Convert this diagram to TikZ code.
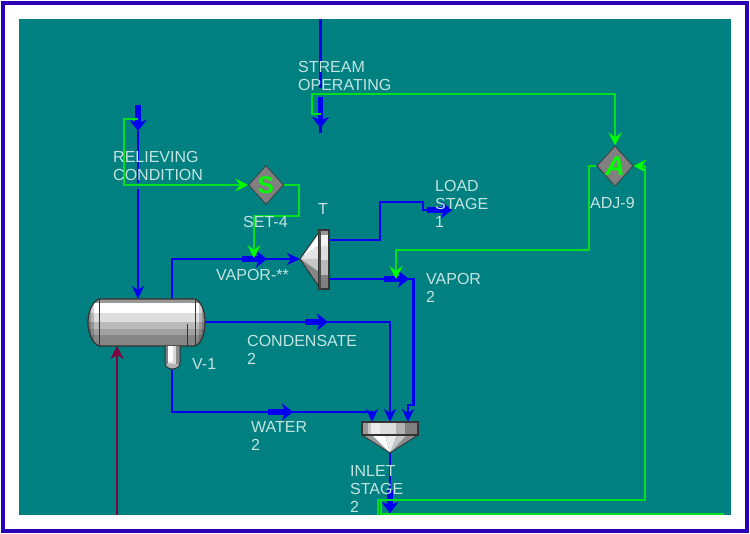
\documentclass[tikz,border=0pt]{standalone}
\usepackage{fontspec}
\setmainfont{Liberation Sans}
\usetikzlibrary{arrows.meta,shapes.geometric}
\definecolor{tealbg}{HTML}{008080}
\definecolor{framec}{HTML}{2B00B5}
\definecolor{streamb}{HTML}{0000F0}
\definecolor{sigg}{HTML}{00E020}
\definecolor{sigtip}{HTML}{00FF00}
\definecolor{redfeed}{HTML}{800040}
\definecolor{labelc}{HTML}{C4E4E2}
\definecolor{dgray}{HTML}{808080}
\tikzset{
 stream/.style={draw=streamb,line width=2.7pt},
 streamtip/.style={stream,-{Stealth[length=13pt,width=12pt,inset=4pt]}},
 flowmark/.style={draw=streamb,line width=5.5pt,-{Stealth[length=11pt,width=17pt,inset=3pt]}},
 signal/.style={draw=sigg,line width=1.7pt},
 signaltip/.style={signal,-{Stealth[length=13pt,width=13pt,inset=5pt,color=sigtip]}},
 lab/.style={text=labelc,anchor=north west,inner sep=0pt,align=left,font=\fontsize{16}{18}\selectfont},
 ctrl/.style={diamond,aspect=0.9,fill=dgray,draw=black!75,line width=0.8pt,inner sep=0pt,text=sigtip,minimum width=35pt,minimum height=39pt},
 outline/.style={draw=black!80,line width=1.2pt}
}
\begin{document}
\begin{tikzpicture}[x=1pt,y=-1pt]
\useasboundingbox (0,0) rectangle (750,534);
\fill[white] (0,0) rectangle (750,534);
\fill[framec] (1,1) rectangle (749,533);
\fill[white] (5,5) rectangle (745,529);
\fill[tealbg] (19,19) rectangle (731,515);

% named ports
\node[inner sep=0pt,minimum width=117pt,minimum height=47pt] (v1) at (146.5,322.5) {};
\node[inner sep=0pt,minimum width=29pt,minimum height=59pt] (turb) at (314.5,259.5) {};
\node[inner sep=0pt,minimum width=56pt,minimum height=31pt] (mix) at (390,437.5) {};
\coordinate (feedTop) at (138,105);
\coordinate (feedMid) at (138,131);
\coordinate (feedGapA) at (138,183);
\coordinate (feedGapB) at (138,189);
\coordinate (feedIn) at (138,299);
\coordinate (vapOut) at (172,299);
\coordinate (turbIn) at (300,259);
\coordinate (turbTop) at (329,240);
\coordinate (turbBot) at (329,279);
\coordinate (load) at (452,210);
\coordinate (condOut) at (205,322);
\coordinate (bootOut) at (172,369);
\coordinate (mixA) at (372,422);
\coordinate (mixB) at (390,422);
\coordinate (mixC) at (408,422);
\coordinate (mixOut) at (390,453);
\coordinate (mixEnd) at (390,515);
\coordinate (opTop) at (320.5,19);
\coordinate (opGapA) at (320.5,88);
\coordinate (opEnd) at (320.5,133);
\coordinate (rfBot) at (117,515);
\coordinate (rfIn) at (117,346);
\coordinate (sigLow) at (378,515);
\coordinate (sigEnd) at (724,514);

% streams
\draw[stream] (feedMid) -- (feedGapA);
\draw[streamtip] (feedGapB) -- (feedIn);
\draw[flowmark] (feedTop) -- (feedMid);
\draw[streamtip] (vapOut) -- (172,259) -- (turbIn);
\draw[flowmark] (242,259) -- (267,259);
\draw[stream] (turbTop) -- (380,240) -- (380,202) -- (423,202) -- (423,210) -- (430,210);
\draw[flowmark] (427,210) -- (load);
\draw[streamtip] (turbBot) -- (413.5,279) -- (413.5,405) -- (408,405) -- (mixC);
\draw[flowmark] (384,279) -- (409,279);
\draw[streamtip] (condOut) -- (390,322) -- (mixB);
\draw[flowmark] (305,322) -- (328,322);
\draw[streamtip] (bootOut) -- (172,412) -- (372,412) -- (mixA);
\draw[flowmark] (268,412) -- (293,412);
\draw[stream] (mixOut) -- (mixEnd);
\draw[flowmark] (390,490) -- (390,513);
\draw[stream] (opTop) -- (opGapA);
\draw[stream] (320.5,120) -- (opEnd);
\draw[flowmark] (320.5,97) -- (320.5,128);
\draw[draw=redfeed,line width=2pt,-{Stealth[length=13pt,width=13pt,inset=4pt]}] (rfBot) -- (rfIn);

% vessel
\begin{scope}
\clip (99,299) -- (195,299) .. controls (202,302) and (205,312) .. (205,322.5) .. controls (205,333) and (202,343) .. (195,346) -- (99,346) .. controls (92,343) and (88,333) .. (88,322.5) .. controls (88,312) and (92,302) .. (99,299) -- cycle;
\fill[white] (88,299) rectangle (205,313);
\fill[black!40] (88,299) rectangle (205,303);
\fill[black!13] (88,313) rectangle (205,322);
\fill[black!27] (88,322) rectangle (205,329);
\fill[black!37] (88,329) rectangle (205,335);
\fill[black!48] (88,335) rectangle (205,347);
\fill[black,opacity=.35] (88,299) rectangle (91,346);
\fill[black,opacity=.18] (91,299) rectangle (94,346);
\fill[black,opacity=.35] (202,299) rectangle (205,346);
\fill[black,opacity=.18] (199,299) rectangle (202,346);
\end{scope}
\draw[outline] (99,299) -- (195,299) .. controls (202,302) and (205,312) .. (205,322.5) .. controls (205,333) and (202,343) .. (195,346) -- (99,346) .. controls (92,343) and (88,333) .. (88,322.5) .. controls (88,312) and (92,302) .. (99,299) -- cycle;
\draw[outline,line width=1pt] (99,299) -- (99,346) (195,299) -- (195,346) (187,324) -- (187,346);
% boot
\begin{scope}
\clip (165,346) -- (180,346) -- (180,363) .. controls (180,367) and (176,369) .. (172.5,369) .. controls (169,369) and (165,367) .. (165,363) -- cycle;
\fill[black!15] (165,346) rectangle (180,370);
\fill[black!50] (165,346) rectangle (168,370);
\fill[white] (168,346) rectangle (173,362);
\fill[black!45] (176,346) rectangle (180,370);
\fill[black!30] (165,364) rectangle (180,370);
\end{scope}
\draw[outline,line width=1pt] (165,346) -- (165,363) .. controls (165,367) and (169,369) .. (172.5,369) .. controls (176,369) and (180,367) .. (180,363) -- (180,346);

% turbine
\fill[white] (300,259) -- (319,232) -- (319,245) -- cycle;
\fill[black!10] (300,259) -- (319,245) -- (319,259) -- cycle;
\fill[black!22] (300,259) -- (319,259) -- (319,272) -- cycle;
\fill[black!48] (300,259) -- (319,272) -- (319,287) -- cycle;
\draw[outline,line width=1pt] (319,232) -- (300,259) -- (319,287);
\fill[black!40] (319,230) rectangle (329,235);
\fill[black!5] (319,235) rectangle (329,246);
\fill[black!13] (319,246) rectangle (329,260);
\fill[black!27] (319,260) rectangle (329,275);
\fill[black!50] (319,275) rectangle (329,289);
\draw[outline] (319,230) rectangle (329,289);
\fill[black!70] (319,230) rectangle (321,289);

% mixer
\fill[black!40] (362,422) rectangle (368,435);
\fill[black!22] (368,422) rectangle (371,435);
\fill[black!8] (371,422) rectangle (380,435);
\fill[black!13] (380,422) rectangle (396,435);
\fill[black!30] (396,422) rectangle (405,435);
\fill[black!50] (405,422) rectangle (418,435);
\fill[black!40] (362,435) -- (372,435) -- (390,453) -- cycle;
\fill[white] (372,435) -- (385,435) -- (390,453) -- cycle;
\fill[black!8] (385,435) -- (397,435) -- (390,453) -- cycle;
\fill[black!22] (397,435) -- (407,435) -- (390,453) -- cycle;
\fill[black!45] (407,435) -- (418,435) -- (390,453) -- cycle;
\draw[outline] (362,422) rectangle (418,435);
\draw[outline,line width=.8pt] (362,435) -- (390,453) -- (418,435);

% control blocks
\node[ctrl,font=\fontsize{24}{24}\selectfont\bfseries] (set4) at (266,185) {S};
\node[ctrl,font=\fontsize{27}{27}\selectfont\bfseries\itshape] (adj9) at (615,166) {A};

% signals
\draw[signaltip] (138,119) -- (124,119) -- (124,185) -- (set4.west);
\draw[signaltip] (set4.east) -- (299,185) -- (299,216) -- (254,216) -- (254,258);
\draw[signaltip] (321,114) -- (312,114) -- (312,94) -- (615,94) -- (adj9.north);
\draw[signaltip] (adj9.west) -- (589,166) -- (589,250) -- (396,250) -- (396,279);
\draw[signaltip] (645,166) -- (adj9.east);
\draw[signal] (645,166) -- (645,500) -- (378,500) -- (sigLow);
\draw[signal] (381,500) -- (381,514) -- (sigEnd);

% labels
\node[lab] (lrc) at (113,151) {RELIEVING\\CONDITION};
\node[lab] (lso) at (298,61) {STREAM\\OPERATING};
\node[lab] (lset) at (243,216) {SET-4};
\node[lab] (lvs) at (216,269) {VAPOR-**};
\node[lab] (lt) at (318,203) {T};
\node[lab] (lls) at (435,180) {LOAD\\STAGE\\1};
\node[lab] (lv2) at (426,273) {VAPOR\\2};
\node[lab] (ladj) at (590,197) {ADJ-9};
\node[lab] (lc2) at (247,335) {CONDENSATE\\2};
\node[lab] (lv1) at (192,358) {V-1};
\node[lab] (lw2) at (251,421) {WATER\\2};
\begin{scope}
\clip (19,19) rectangle (731,515);
\node[lab] (lis) at (350,465) {INLET\\STAGE\\2};
\end{scope}
\end{tikzpicture}
\end{document}
